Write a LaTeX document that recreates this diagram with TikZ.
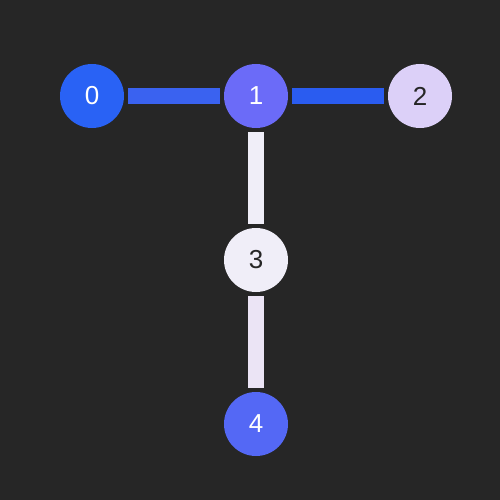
\documentclass[tikz,border=0pt]{standalone}
\usepackage{fontspec}
\setmainfont{Liberation Sans}
\definecolor{bg}{HTML}{262626}
\definecolor{cA}{HTML}{2962F5}
\definecolor{cB}{HTML}{6B6BF8}
\definecolor{cC}{HTML}{DCD0F8}
\definecolor{cD}{HTML}{F0EEF8}
\definecolor{cE}{HTML}{5468F5}
\definecolor{eA}{HTML}{3A62F0}
\definecolor{eB}{HTML}{2A5CF0}
\definecolor{eC}{HTML}{F0EEF8}
\definecolor{eD}{HTML}{EBE4F5}
\definecolor{dark}{HTML}{262626}
\tikzset{
  vert/.style={circle, minimum size=64pt, inner sep=0pt, outer sep=0pt, font=\fontsize{26}{30}\selectfont},
  conn/.style={line width=16pt, shorten <=4pt, shorten >=4pt},
}
\begin{document}
\begin{tikzpicture}[x=1pt,y=-1pt]
\fill[bg] (0,0) rectangle (500,500);
\useasboundingbox (0,0) rectangle (500,500);
\node[vert, fill=cA, text=white] (n0) at (92,96) {0};
\node[vert, fill=cB, text=white] (n1) at (256,96) {1};
\node[vert, fill=cC, text=dark] (n2) at (420,96) {2};
\node[vert, fill=cD, text=dark] (n3) at (256,260) {3};
\node[vert, fill=cE, text=white] (n4) at (256,424) {4};
\draw[conn, eA] (n0) -- (n1);
\draw[conn, eB] (n1) -- (n2);
\draw[conn, eC] (n1) -- (n3);
\draw[conn, eD] (n3) -- (n4);
\end{tikzpicture}
\end{document}
